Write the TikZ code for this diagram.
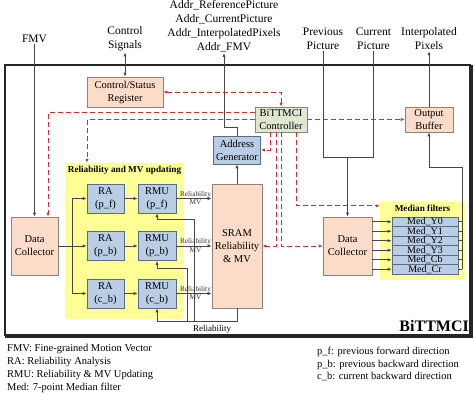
\documentclass[tikz,border=0pt]{standalone}
\usepackage{fontspec}
\setmainfont{Liberation Serif}
\usetikzlibrary{arrows.meta}

\definecolor{peach}{RGB}{250,220,200}
\definecolor{peachline}{RGB}{150,128,118}
\definecolor{steel}{RGB}{185,205,228}
\definecolor{steelline}{RGB}{88,108,138}
\definecolor{sage}{RGB}{222,232,208}
\definecolor{sageline}{RGB}{128,140,118}
\definecolor{hilite}{RGB}{255,255,150}
\definecolor{ctlred}{RGB}{222,40,52}

\begin{document}
\begin{tikzpicture}[
    x=1pt, y=-1pt,
    font=\fontsize{10.5}{13}\selectfont,
    >={Latex[length=4pt,width=3.2pt]},
    unit/.style={draw=peachline, fill=peach, line width=0.6pt, align=center, inner sep=1pt},
    calc/.style={draw=steelline, fill=steel, line width=0.6pt, align=center, inner sep=1pt},
    ctrlbox/.style={draw=sageline, fill=sage, line width=0.6pt, align=center, inner sep=1pt},
    medbox/.style={draw=steelline, fill=steel, line width=0.6pt, inner sep=0pt,
      minimum width=66pt, minimum height=9.5pt, font=\fontsize{10}{10}\selectfont},
    region/.style={fill=hilite, draw=none, inner sep=0pt},
    regtitle/.style={font=\bfseries\fontsize{9.2}{10}\selectfont, inner sep=1pt},
    toplbl/.style={align=center, font=\fontsize{11.5}{14}\selectfont, inner sep=1pt},
    wire/.style={draw=black!72, line width=0.7pt},
    ctl/.style={draw=ctlred, line width=0.9pt, dash pattern=on 5pt off 3pt},
    tiny/.style={font=\fontsize{7.3}{8}\selectfont, inner sep=0.3pt, text=black!80},
    legend/.style={align=left, inner sep=0pt, font=\fontsize{10.5}{13}\selectfont},
  ]
  \useasboundingbox (0,0) rectangle (474,414);

  % BiTTMCI frame, heavy edge right and bottom
  \draw[line width=1.6pt, black!85] (5,65) rectangle (470,335);
  \draw[line width=3.6pt, black!85] (471.6,65) -- (471.6,336.2) -- (5,336.2);
  \node[font=\bfseries\fontsize{16}{16}\selectfont, anchor=base east, inner sep=0pt]
    (sysname) at (469,331) {BiTTMCI};

  % shaded groups
  \node[region, minimum width=119pt, minimum height=156pt] (rupd) at (124.5,241) {};
  \node[regtitle, anchor=north] (rupdtitle) at ([yshift=-2pt]rupd.north) {Reliability and MV updating};
  \node[region, minimum width=85pt, minimum height=78pt] (medreg) at (422.5,241) {};
  \node[regtitle, anchor=north] (medtitle) at ([yshift=-2pt]medreg.north) {Median filters};

  % outside signals
  \node[toplbl] (fmv) at (34.5,39) {FMV};
  \node[toplbl] (ctlsig) at (125,39) {Control\\Signals};
  \node[toplbl] (addr) at (224,26) {Addr\_ReferencePicture\\Addr\_CurrentPicture\\Addr\_InterpolatedPixels\\Addr\_FMV};
  \node[toplbl] (prev) at (323,39) {Previous\\Picture};
  \node[toplbl] (cur) at (373.5,39) {Current\\Picture};
  \node[toplbl] (interp) at (429,39) {Interpolated\\Pixels};

  % blocks
  \node[unit, minimum width=76pt, minimum height=30pt] (csr) at (125,92) {Control/Status\\Register};
  \node[ctrlbox, minimum width=52pt, minimum height=25pt] (ctrl) at (281,119.5) {BiTTMCI\\Controller};
  \node[unit, minimum width=48pt, minimum height=25pt] (ob) at (429,119.5) {Output\\Buffer};
  \node[calc, minimum width=47pt, minimum height=28pt] (ag) at (237,150) {Address\\Generator};
  \node[unit, minimum width=50pt, minimum height=124pt] (sram) at (237,246) {SRAM\\Reliability\\\& MV};
  \node[unit, minimum width=47pt, minimum height=58pt] (dc1) at (34.5,246) {Data\\Collector};
  \node[unit, minimum width=49pt, minimum height=58pt] (dc2) at (347.5,246) {Data\\Collector};

  % RA / RMU rows
  \foreach \dir [count=\k] in {p\_f,p\_b,c\_b} {
    \node[calc, minimum width=37pt, minimum height=29pt] (ra\k) at (105.5,151+47.5*\k) {RA\\(\dir)};
    \node[calc, minimum width=38pt, minimum height=29pt] (rmu\k) at (157,151+47.5*\k) {RMU\\(\dir)};
  }

  % median filter stack
  \foreach \ch [count=\k] in {Y0,Y1,Y2,Y3,Cb,Cr}
    \node[medbox] (med\k) at (425,212.25+9.5*\k) {Med\_\ch};

  % data paths
  \draw[wire,->] (fmv) -- (dc1.north);
  \draw[wire,<->] (ctlsig) -- (csr.north);
  \coordinate (agjog) at (224,127);
  \draw[wire,->] (ag.north) |- (agjog) -- (addr.south);
  \draw[wire,->] (sram.north) -- (ag.south);
  \draw[wire,->] (ob.north) -- (interp.south);

  \coordinate (picjoin) at (347.5,157);
  \draw[wire] (prev.south) |- (picjoin);
  \draw[wire] (cur.south) |- (picjoin);
  \draw[wire,->] (picjoin) -- (dc2.north);

  \coordinate (rafan) at (72,246);
  \draw[wire,->] (dc1.east) -- (ra2.west);
  \draw[wire,->] (rafan) |- (ra1.west);
  \draw[wire,->] (rafan) |- (ra3.west);
  \foreach \k in {1,2,3} {
    \draw[wire,->] (ra\k) -- (rmu\k);
    \draw[wire,->] (rmu\k.east) -- (sram.west |- rmu\k.east)
      node[tiny, midway, above=0.2pt, xshift=1.5pt] (rel\k) {Reliability}
      node[tiny, midway, below=0.6pt, xshift=1.5pt] (mv\k) {MV};
  }

  % reliability feedback
  \coordinate (fbbase) at (237,321);
  \coordinate (fbf) at (194,321);
  \coordinate (fbb) at (187,321);
  \draw[wire,->] (sram.south) -- (fbbase) -| (rmu3.south);
  \draw[wire,->] (fbf) |- ([yshift=-6pt]rmu1.south) -- (rmu1.south);
  \draw[wire,->] (fbb) |- ([yshift=-8pt]rmu2.south) -- (rmu2.south);
  \node[font=\fontsize{9}{10}\selectfont, inner sep=1pt] (fblbl) at (212,329.5) {Reliability};

  \foreach \k in {1,...,6}
    \draw[wire,->] (dc2.east |- med\k.west) -- (med\k.west);
  \coordinate (medtap) at (462,167);
  \foreach \k in {1,...,6}
    \draw[wire] (med\k.east) -- (medtap |- med\k.east);
  \draw[wire,->] (medtap |- med6.east) -- (medtap) -| (ob.south);

  % control paths from the controller
  \draw[ctl,<->] (csr.east) -| (ctrl.north);
  \draw[ctl,->] ([yshift=7pt]ctrl.west) -| ([xshift=13.5pt]dc1.north);
  \draw[ctl,->] (ctrl.west) -| ([xshift=-37.5pt]rupd.north);
  \draw[ctl,->] (ctrl.east) -- (ob.west);
  \draw[ctl,->] ([xshift=-11pt]ctrl.south) |- (ag.east);
  \draw[ctl,->] ([xshift=-5pt]ctrl.south) |- (sram.east);
  \draw[ctl,->] (ctrl.south) |- (dc2.west);
  \draw[ctl,->] ([xshift=15pt]ctrl.south) |- ([yshift=-4pt]medreg.north west);

  % legend
  \node[legend, anchor=north west] (legl) at (7,344)
    {FMV: Fine-grained Motion Vector\\RA: Reliability Analysis\\RMU: Reliability \& MV Updating\\Med: 7-point Median filter};
  \node[legend, anchor=north west, font=\fontsize{10.5}{12.5}\selectfont] (legr) at (317,347)
    {p\_f: previous forward direction\\p\_b: previous backward direction\\c\_b: current backward direction};
\end{tikzpicture}
\end{document}
